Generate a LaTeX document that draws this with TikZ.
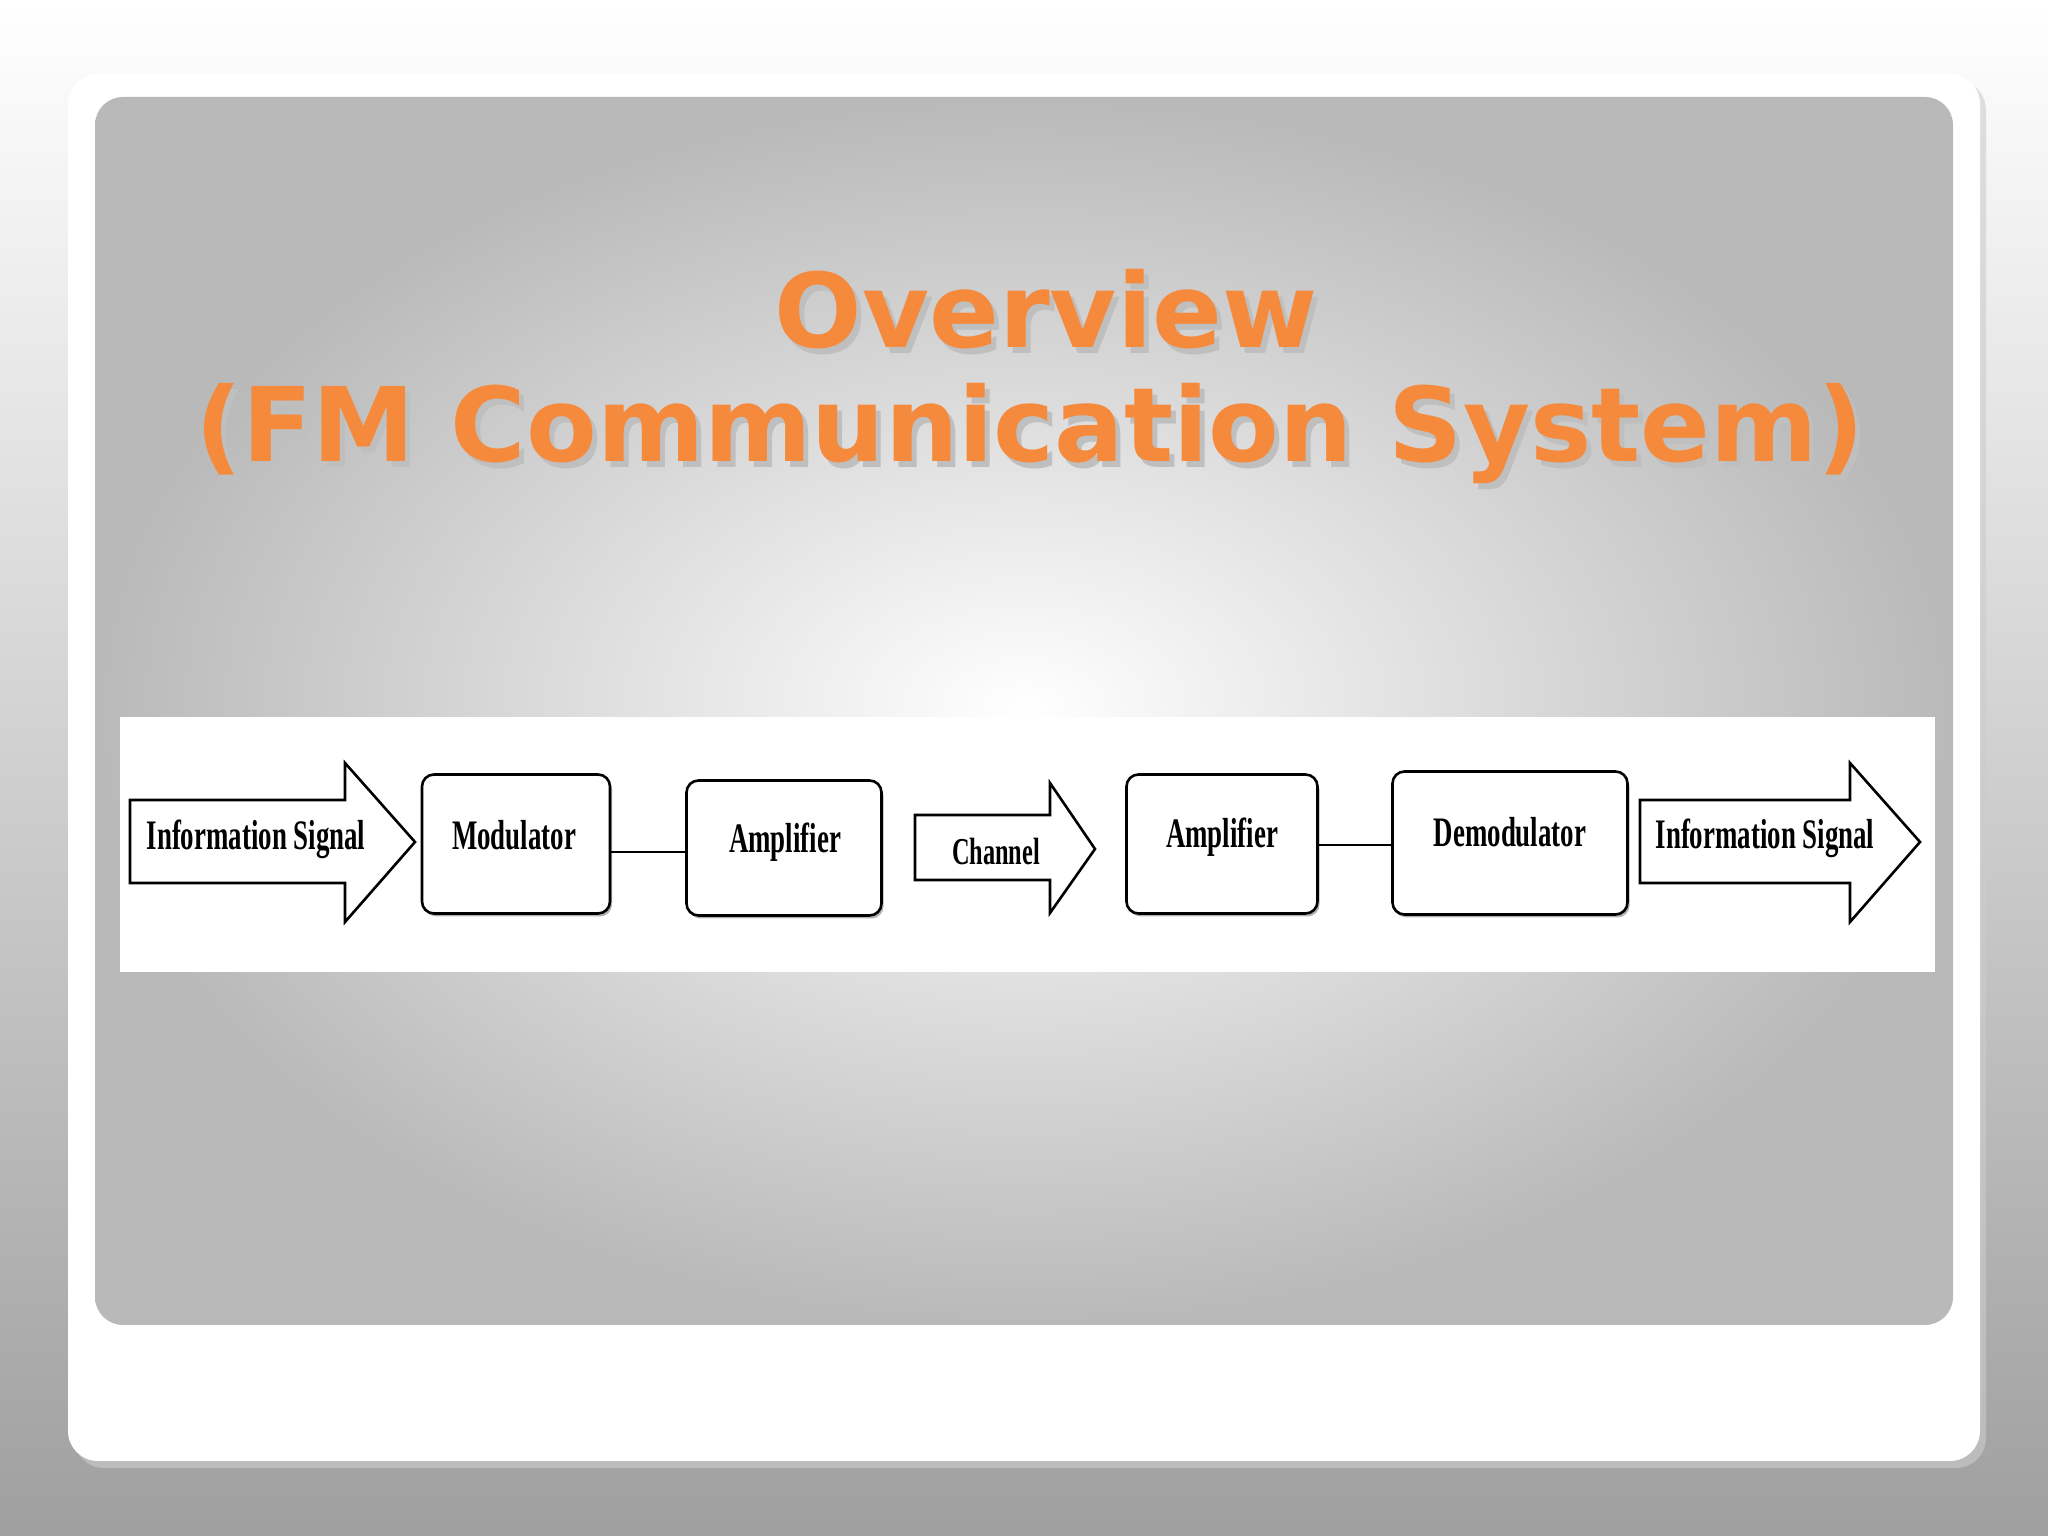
\documentclass[tikz,border=0pt]{standalone}
\usepackage{fontspec}
\setmainfont{Liberation Serif}
\newfontfamily\titlefont{DejaVu Sans}
\usetikzlibrary{shadows}
\definecolor{ttl}{HTML}{F58A3C}
\tikzset{
 blk/.style={draw,line width=2.6pt,rounded corners=12pt,fill=white,drop shadow={shadow xshift=2pt,shadow yshift=-3pt,opacity=.6}},
 lbl/.style={font=\fontsize{42}{50}\selectfont\bfseries,xscale=.64,inner sep=0},
 arr/.style={draw,line width=2.6pt,fill=white},
}
\begin{document}
\begin{tikzpicture}[x=1pt,y=1pt]
\useasboundingbox (0,0) rectangle (2048,1536);
\shade[top color=white,bottom color=gray!75] (0,0) rectangle (2048,1536);
\fill[gray!40,opacity=.6,rounded corners=30pt] (74,68) rectangle (1986,1456);
\fill[white,rounded corners=30pt] (68,75) rectangle (1980,1462);
\begin{scope}
\clip[rounded corners=28pt] (95,211) rectangle (1953,1439);
\shade[inner color=white,outer color=gray!55] (95,211) rectangle (1953,1439);
\end{scope}
\node[text=black!25,font=\titlefont\bfseries\fontsize{103}{110}\selectfont] at (1051,1221) {Overview};
\node[text=ttl,font=\titlefont\bfseries\fontsize{103}{110}\selectfont] (t1) at (1046,1227) {Overview};
\node[text=black!25,font=\titlefont\bfseries\fontsize{103}{110}\selectfont] at (1035,1096) {(FM Communication System)};
\node[text=ttl,font=\titlefont\bfseries\fontsize{103}{110}\selectfont] (t2) at (1030,1102) {(FM Communication System)};
\fill[white] (120,564) rectangle (1935,819);
% arrow 1
\draw[arr] (130,736)--(345,736)--(345,773)--(415,694)--(345,614)--(345,653)--(130,653)--cycle;
\node[lbl] (in) at (256,697) {Information Signal};
\node[blk,minimum width=188pt,minimum height=139pt] (mod) at (516,692) {};
\node[lbl] at (514,701) {Modulator};
\node[blk,minimum width=195pt,minimum height=135pt] (amp1) at (784,688) {};
\node[lbl] at (785,694) {Amplifier};
\draw[line width=2.4pt] (mod.east|-0,684) -- (amp1.west|-0,684);
% channel arrow
\draw[arr] (915,721)--(1050,721)--(1050,753)--(1095,687)--(1050,623)--(1050,656)--(915,656)--cycle;
\node[lbl,font=\fontsize{38}{44}\selectfont\bfseries] (ch) at (996,684) {Channel};
\node[blk,minimum width=191pt,minimum height=139pt] (amp2) at (1222,692) {};
\node[lbl] at (1222,699) {Amplifier};
\node[blk,minimum width=235pt,minimum height=143pt] (dem) at (1510,693) {};
\node[lbl] at (1510,704) {Demodulator};
\draw[line width=2.4pt] (amp2.east|-0,691) -- (dem.west|-0,691);
% arrow 3
\draw[arr] (1640,736)--(1850,736)--(1850,773)--(1920,694)--(1850,614)--(1850,653)--(1640,653)--cycle;
\node[lbl] (out) at (1765,698) {Information Signal};
\end{tikzpicture}
\end{document}
